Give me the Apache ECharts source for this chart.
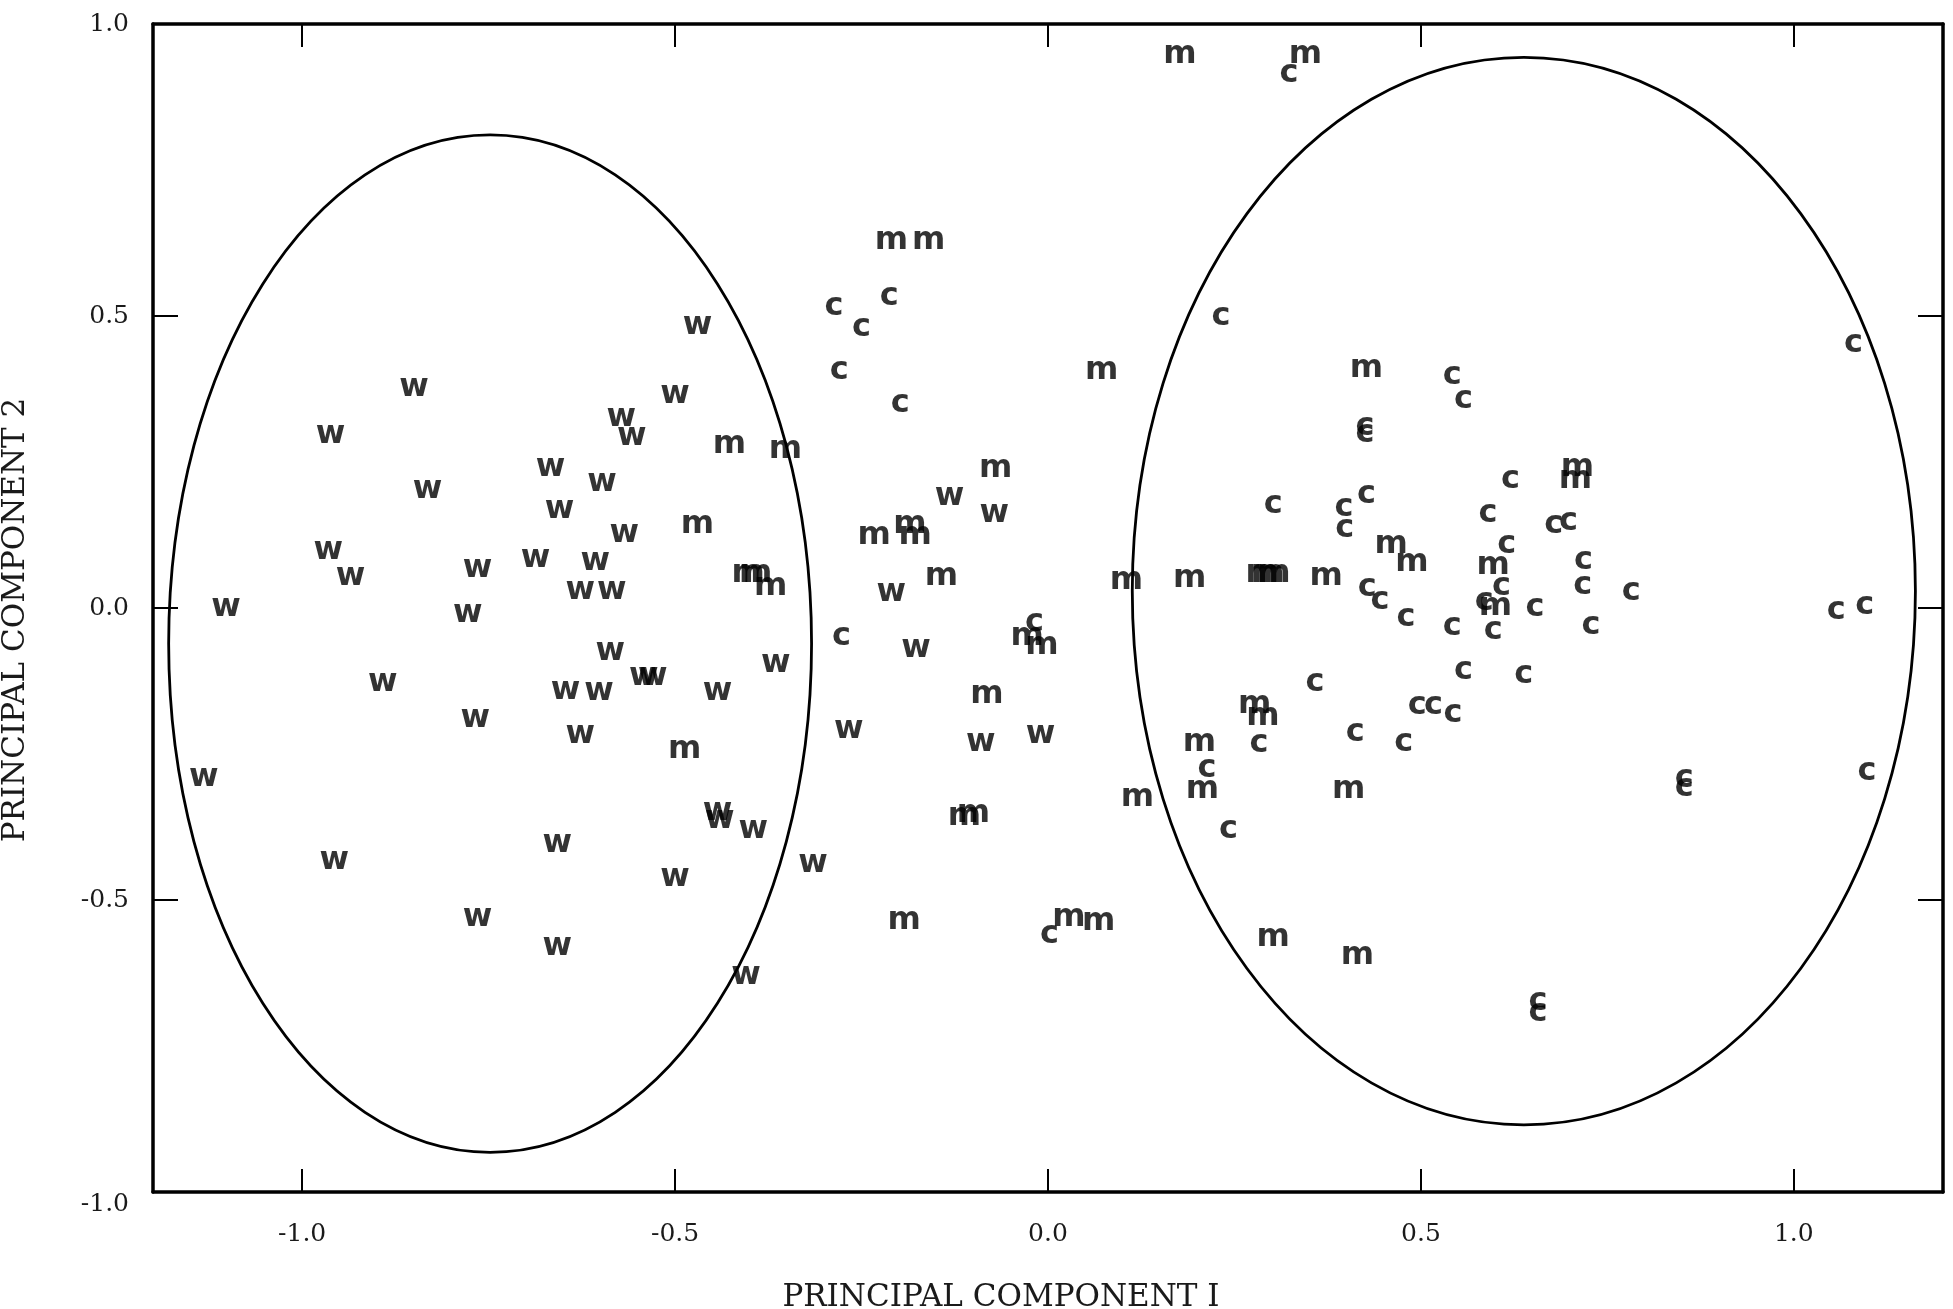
<!DOCTYPE html>
<html>
<head>
<meta charset="utf-8">
<script src="https://cdn.jsdelivr.net/npm/echarts@6/dist/echarts.min.js"></script>
<style>html,body{margin:0;padding:0;background:#fff;}#chart{width:1953px;height:1309px;}</style>
</head>
<body>
<div id="chart"></div>
<script>
// Tick values
var xTickValues = [-1.0, -0.5, 0.0, 0.5, 1.0];
var yTickValues = [-1.0, -0.5, 0.0, 0.5, 1.0];

// Group "w" points [PC1, PC2]
var wPoints = [
[-1.102, 0.000], [-1.132, -0.290], [-0.962, 0.296], [-0.965, 0.098], [-0.935, 0.053],
[-0.850, 0.377], [-0.832, 0.203], [-0.892, -0.128], [-0.765, 0.068], [-0.778, -0.009],
[-0.768, -0.190], [-0.957, -0.433], [-0.765, -0.531], [-0.667, 0.241], [-0.655, 0.168],
[-0.687, 0.085], [-0.598, 0.215], [-0.607, 0.079], [-0.568, 0.128], [-0.627, 0.030],
[-0.585, 0.030], [-0.572, 0.326], [-0.558, 0.294], [-0.500, 0.365], [-0.470, 0.484],
[-0.587, -0.075], [-0.647, -0.141], [-0.602, -0.143], [-0.542, -0.117], [-0.530, -0.117],
[-0.443, -0.143], [-0.365, -0.096], [-0.627, -0.217], [-0.658, -0.403], [-0.658, -0.580],
[-0.500, -0.461], [-0.443, -0.348], [-0.440, -0.362], [-0.395, -0.380], [-0.315, -0.437],
[-0.405, -0.629], [-0.132, 0.190], [-0.072, 0.162], [-0.210, 0.026], [-0.177, -0.070],
[-0.267, -0.209], [-0.090, -0.230], [-0.010, -0.217]
];

// Group "m" points
var mPoints = [
[-0.427, 0.279], [-0.352, 0.271], [-0.470, 0.143], [-0.402, 0.058], [-0.392, 0.058],
[-0.372, 0.036], [-0.487, -0.243], [-0.210, 0.629], [-0.160, 0.629], [0.072, 0.407],
[-0.070, 0.239], [-0.233, 0.124], [-0.185, 0.143], [-0.178, 0.124], [-0.143, 0.053],
[0.105, 0.047], [0.190, 0.051], [0.287, 0.058], [0.295, 0.058], [0.303, 0.058],
[0.373, 0.053], [0.427, 0.409], [0.460, 0.109], [0.488, 0.077], [0.710, 0.241],
[0.707, 0.220], [0.600, 0.002], [0.597, 0.072], [-0.028, -0.049], [-0.008, -0.064],
[-0.082, -0.149], [-0.112, -0.358], [-0.100, -0.352], [-0.193, -0.535], [0.028, -0.531],
[0.068, -0.537], [0.120, -0.324], [0.203, -0.230], [0.207, -0.311], [0.277, -0.166],
[0.288, -0.186], [0.403, -0.311], [0.302, -0.565], [0.415, -0.595], [0.177, 0.947],
[0.345, 0.947]
];

// Group "c" points
var cPoints = [
[-0.287, 0.516], [-0.250, 0.480], [-0.213, 0.533], [-0.280, 0.407], [-0.198, 0.350],
[0.232, 0.499], [0.323, 0.915], [0.425, 0.311], [0.425, 0.299], [0.542, 0.397],
[0.557, 0.356], [1.080, 0.452], [0.302, 0.177], [0.397, 0.171], [0.427, 0.194],
[0.398, 0.136], [0.620, 0.220], [0.590, 0.162], [0.678, 0.143], [0.698, 0.147],
[0.615, 0.109], [0.718, 0.081], [0.717, 0.038], [0.782, 0.028], [0.608, 0.036],
[0.585, 0.011], [0.597, -0.038], [0.428, 0.034], [0.445, 0.013], [0.480, -0.017],
[0.542, -0.032], [0.653, 0.000], [0.728, -0.030], [1.057, -0.004], [1.095, 0.004],
[0.557, -0.107], [0.638, -0.115], [0.358, -0.128], [0.495, -0.168], [0.517, -0.168],
[0.543, -0.181], [0.412, -0.213], [0.283, -0.232], [0.477, -0.230], [0.853, -0.292],
[0.853, -0.307], [1.098, -0.281], [-0.277, -0.049], [-0.018, -0.026], [0.213, -0.275],
[0.242, -0.380], [0.002, -0.559], [0.657, -0.674], [0.657, -0.693]
];

// Ellipses (center x, center y, radius x, radius y) in data units
var ellipseCX = [-0.748, 0.638];
var ellipseCY = [-0.061, 0.029];
var ellipseRX = [0.431, 0.525];
var ellipseRY = [0.871, 0.914];

var xTitle = 'PRINCIPAL COMPONENT I';
var yTitle = 'PRINCIPAL COMPONENT 2';

var ellipseData = ellipseCX.map(function (cx, i) {
  return [cx, ellipseCY[i], ellipseRX[i], ellipseRY[i]];
});

var chart = echarts.init(document.getElementById('chart'), null, {renderer: 'canvas'});

var axisLineStyle = {color: '#000', width: 3.5};
var tickStyle = {color: '#000', width: 2};
var labelFont = {fontFamily: 'DejaVu Serif', fontSize: 25, color: '#1a1a1a'};

function letterSeries(name, pts) {
  return {
    type: 'scatter',
    name: name,
    data: pts,
    symbol: 'circle',
    symbolSize: 1,
    itemStyle: {color: 'rgba(0,0,0,0)'},
    silent: true,
    z: 5,
    label: {
      show: true,
      position: 'inside',
      formatter: name,
      fontFamily: 'DejaVu Sans',
      fontWeight: 'bold',
      fontSize: 32,
      color: '#000',
      align: 'center',
      verticalAlign: 'middle'
    },
    emphasis: {disabled: true}
  };
}

var option = {
  animation: false,
  backgroundColor: '#fff',
  grid: {left: 153, right: 10, top: 24, bottom: 117, containLabel: false, outerBoundsMode: 'none'},
  xAxis: [
    {
      type: 'value', min: -1.2, max: 1.2, position: 'bottom',
      axisLine: {show: true, onZero: false, lineStyle: axisLineStyle},
      axisTick: {show: true, inside: true, length: 23, lineStyle: tickStyle, customValues: xTickValues},
      axisLabel: Object.assign({show: true, margin: 30, customValues: xTickValues,
        formatter: function (v) { return v.toFixed(1); }}, labelFont),
      splitLine: {show: false},
      name: xTitle, nameLocation: 'middle', nameGap: 90,
      nameTextStyle: {fontFamily: 'DejaVu Serif', fontSize: 31, color: '#1a1a1a', padding: [0, 94, 0, 0]}
    },
    {
      type: 'value', min: -1.2, max: 1.2, position: 'top',
      axisLine: {show: true, onZero: false, lineStyle: axisLineStyle},
      axisTick: {show: true, inside: true, length: 23, lineStyle: tickStyle, customValues: xTickValues},
      axisLabel: {show: false},
      splitLine: {show: false}
    }
  ],
  yAxis: [
    {
      type: 'value', min: -1, max: 1, interval: 0.5, position: 'left',
      axisLine: {show: true, onZero: false, lineStyle: axisLineStyle},
      axisTick: {show: true, inside: true, length: 25, lineStyle: tickStyle},
      axisLabel: Object.assign({show: true, margin: 24,
        formatter: function (v) { return v === -1 ? '{low|-1.0}' : v.toFixed(1); },
        rich: {low: {fontFamily: 'DejaVu Serif', fontSize: 25, color: '#1a1a1a', padding: [24, 0, 0, 0]}}
      }, labelFont),
      splitLine: {show: false},
      name: yTitle, nameLocation: 'middle', nameGap: 122, nameRotate: 90,
      nameTextStyle: {fontFamily: 'DejaVu Serif', fontSize: 31, color: '#1a1a1a', padding: [0, 24, 0, 0]}
    },
    {
      type: 'value', min: -1, max: 1, interval: 0.5, position: 'right',
      axisLine: {show: true, onZero: false, lineStyle: axisLineStyle},
      axisTick: {show: true, inside: true, length: 25, lineStyle: tickStyle},
      axisLabel: {show: false},
      splitLine: {show: false}
    }
  ],
  series: [
    {
      type: 'custom',
      name: 'ellipses',
      data: ellipseData,
      encode: {x: 0, y: 1},
      silent: true,
      z: 3,
      renderItem: function (params, api) {
        var c = api.coord([api.value(0), api.value(1)]);
        var s = api.size([api.value(2), api.value(3)]);
        return {
          type: 'ellipse',
          shape: {cx: c[0], cy: c[1], rx: s[0], ry: s[1]},
          style: {fill: 'none', stroke: '#000', lineWidth: 2.8}
        };
      }
    },
    letterSeries('w', wPoints),
    letterSeries('m', mPoints),
    letterSeries('c', cPoints)
  ]
};

chart.setOption(option);
</script>
</body>
</html>
